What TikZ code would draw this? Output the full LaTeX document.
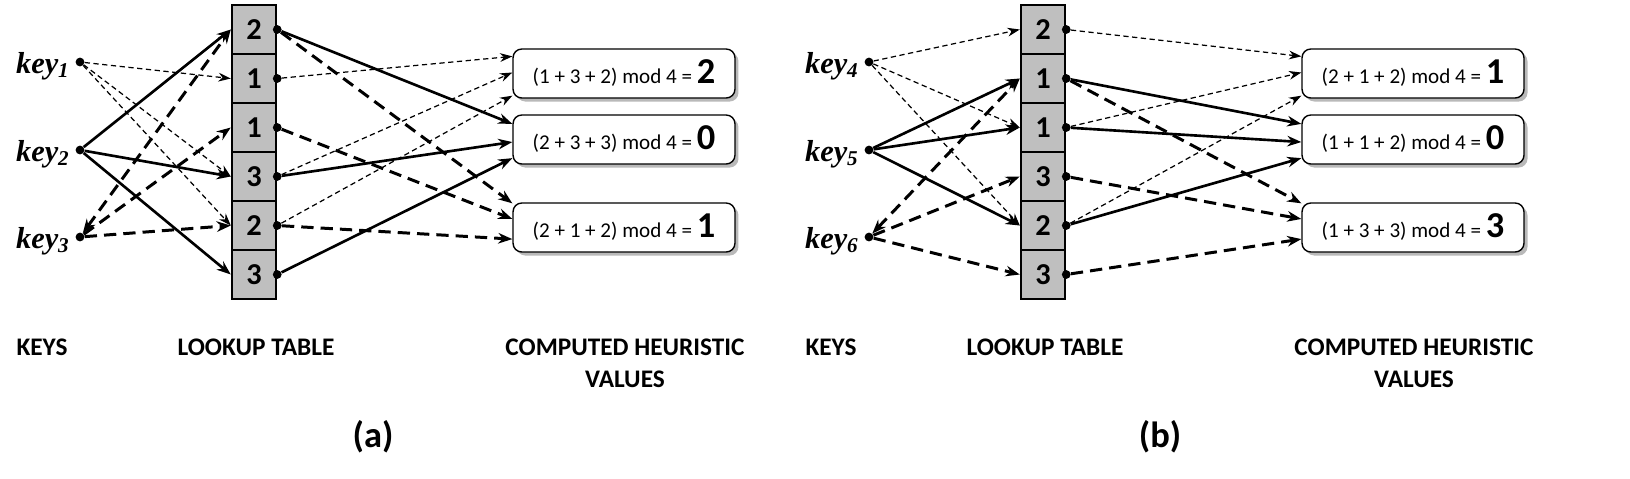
\documentclass[tikz,border=0pt]{standalone}
\usepackage{fontspec}
\setmainfont{Carlito}
\newfontfamily\keyfont{Liberation Serif}
\usetikzlibrary{arrows.meta,shadows,calc}
\begin{document}
\begin{tikzpicture}[x=0.02cm,y=-0.02cm,
  cell/.style={draw,line width=1.4pt,fill=black!25,minimum width=0.88cm,minimum height=0.98cm,inner sep=0,font=\bfseries\LARGE},
  box/.style={draw,line width=0.8pt,rounded corners=5pt,fill=white,minimum width=4.44cm,minimum height=0.98cm,inner sep=0,font=\large,drop shadow={shadow xshift=2pt,shadow yshift=-2pt,fill=black!55}},
  key/.style={font=\keyfont\bfseries\itshape\LARGE,anchor=east,inner sep=0},
  dot/.style={circle,fill,inner sep=0,minimum size=5pt},
  thin/.style={dash pattern=on 3pt off 2pt,line width=0.7pt,-{Stealth[length=7pt,width=5pt]}},
  thick/.style={dash pattern=on 7pt off 4pt,line width=1.7pt,-{Stealth[length=8pt,width=6pt]}},
  solid/.style={line width=1.5pt,-{Stealth[length=8pt,width=6pt]}},
  lab/.style={font=\bfseries\Large,align=center,anchor=north}]
\useasboundingbox (0,0) rectangle (1630,478);
% ---------- panel a ----------
\foreach \v [count=\i] in {2,1,1,3,2,3}
  \node[cell] (a\i) at (254,{29.5+49*(\i-1)}) {\v};
\node[box] (aA) at (624,73.5) {(1 + 3 + 2) mod 4 = {\bfseries\huge 2}};
\node[box] (aB) at (624,139.5) {(2 + 3 + 3) mod 4 = {\bfseries\huge 0}};
\node[box] (aC) at (624,227.5) {(2 + 1 + 2) mod 4 = {\bfseries\huge 1}};
\node[dot] (k1) at (80,62) {}; \node[key] at (70,66) {key\textsubscript{1}};
\node[dot] (k2) at (80,150) {}; \node[key] at (70,154) {key\textsubscript{2}};
\node[dot] (k3) at (80,237) {}; \node[key] at (70,241) {key\textsubscript{3}};
\foreach \i in {1,...,6} \node[dot] (ad\i) at (a\i.east) {};
\draw[thin] (k1) -- (a2.west); \draw[thin] (k1) -- (a4.west); \draw[thin] (k1) -- (a5.west);
\draw[solid] (k2) -- (a1.west); \draw[solid] (k2) -- (a4.west); \draw[solid] (k2) -- (a6.west);
\draw[thick,{Stealth[length=8pt,width=6pt]}-{Stealth[length=8pt,width=6pt]}] (k3) -- (a1.west);
\draw[thick] (k3) -- (a3.west); \draw[thick] (k3) -- (a5.west);
\draw[solid] (ad1) -- ($(aB.north west)!0.19!(aB.south west)$);
\draw[thick] (ad1) -- ($(aC.north west)!0.02!(aC.south west)$);
\draw[thin] (ad2) -- ($(aA.north west)!0.16!(aA.south west)$);
\draw[thick] (ad3) -- ($(aC.north west)!0.33!(aC.south west)$);
\draw[solid] (ad4) -- ($(aB.north west)!0.55!(aB.south west)$);
\draw[thin] (ad4) -- ($(aA.north west)!0.48!(aA.south west)$);
\draw[thin] (ad5) -- ($(aA.north west)!0.94!(aA.south west)$);
\draw[thick] (ad5) -- ($(aC.north west)!0.73!(aC.south west)$);
\draw[solid] (ad6) -- ($(aB.north west)!0.87!(aB.south west)$);
\node[lab] (l1) at (42,333) {KEYS};
\node[lab] (l2) at (256,333) {LOOKUP TABLE};
\node[lab] (l3) at (625,333) {COMPUTED HEURISTIC\\VALUES};
\node[font=\bfseries\huge] (pa) at (373,437) {(a)};
% ---------- panel b ----------
\begin{scope}[xshift=789*0.02cm]
\foreach \v [count=\i] in {2,1,1,3,2,3}
  \node[cell] (b\i) at (254,{29.5+49*(\i-1)}) {\v};
\node[box] (bA) at (624,73.5) {(2 + 1 + 2) mod 4 = {\bfseries\huge 1}};
\node[box] (bB) at (624,139.5) {(1 + 1 + 2) mod 4 = {\bfseries\huge 0}};
\node[box] (bC) at (624,227.5) {(1 + 3 + 3) mod 4 = {\bfseries\huge 3}};
\node[dot] (k4) at (80,62) {}; \node[key] at (70,66) {key\textsubscript{4}};
\node[dot] (k5) at (80,150) {}; \node[key] at (70,154) {key\textsubscript{5}};
\node[dot] (k6) at (80,237) {}; \node[key] at (70,241) {key\textsubscript{6}};
\foreach \i in {1,...,6} \node[dot] (bd\i) at (b\i.east) {};
\draw[thin] (k4) -- (b1.west); \draw[thin] (k4) -- (b3.west); \draw[thin] (k4) -- (b5.west);
\draw[solid] (k5) -- (b2.west); \draw[solid] (k5) -- (b3.west); \draw[solid] (k5) -- (b5.west);
\draw[thick,{Stealth[length=8pt,width=6pt]}-{Stealth[length=8pt,width=6pt]}] (k6) -- (b2.west);
\draw[thick] (k6) -- (b4.west); \draw[thick] (k6) -- (b6.west);
\draw[thin] (bd1) -- ($(bA.north west)!0.16!(bA.south west)$);
\draw[solid] (bd2) -- ($(bB.north west)!0.19!(bB.south west)$);
\draw[thick] (bd2) -- ($(bC.north west)!0.02!(bC.south west)$);
\draw[thin] (bd3) -- ($(bA.north west)!0.48!(bA.south west)$);
\draw[solid] (bd3) -- ($(bB.north west)!0.55!(bB.south west)$);
\draw[thick] (bd4) -- ($(bC.north west)!0.33!(bC.south west)$);
\draw[thin] (bd5) -- ($(bA.north west)!0.94!(bA.south west)$);
\draw[solid] (bd5) -- ($(bB.north west)!0.87!(bB.south west)$);
\draw[thick] (bd6) -- ($(bC.north west)!0.73!(bC.south west)$);
\node[lab] (m1) at (42,333) {KEYS};
\node[lab] (m2) at (256,333) {LOOKUP TABLE};
\node[lab] (m3) at (625,333) {COMPUTED HEURISTIC\\VALUES};
\node[font=\bfseries\huge] (pb) at (371,437) {(b)};
\end{scope}
\end{tikzpicture}
\end{document}
